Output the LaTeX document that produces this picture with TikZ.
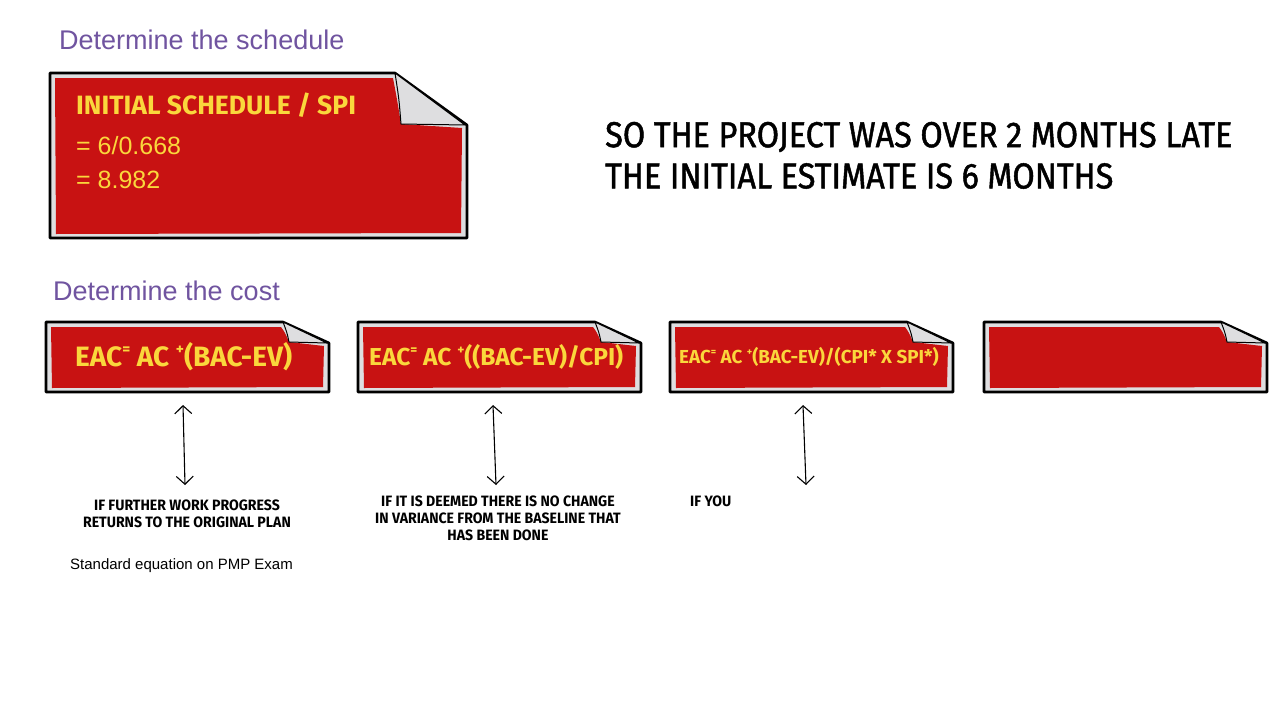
\documentclass[tikz,border=0pt]{standalone}
\usepackage{fontspec}
\setmainfont{Liberation Sans}
\newfontfamily\hand{Fira Sans}[FakeStretch=0.94]
\newfontfamily\handm{Fira Sans}[FakeStretch=0.9, FakeBold=1.3]
\newfontfamily\handn{Fira Sans}
\newfontfamily\cond{Liberation Sans}
\usetikzlibrary{arrows.meta}
\definecolor{notered}{RGB}{200,18,18}
\definecolor{noteyel}{RGB}{250,215,60}
\definecolor{headpur}{RGB}{112,84,160}
\definecolor{flapgrey}{RGB}{222,222,224}
\tikzset{
  outline/.style={fill=flapgrey, draw=black, line width=2.6pt, line join=round},
  flap/.style={fill=flapgrey, draw=black, line width=1pt, line join=round},
  heading/.style={text=headpur, font=\fontsize{27}{30}\selectfont, anchor=west, inner sep=0pt},
  notetxt/.style={text=noteyel, anchor=west, inner sep=0pt},
  bigtxt/.style={text=black, font=\handm\fontsize{36}{40}\selectfont, anchor=west, inner sep=0pt},
  lbl/.style={text=black, font=\hand\bfseries\fontsize{15}{17}\selectfont, align=center, inner sep=0pt},
  plainlbl/.style={text=black, font=\cond\fontsize{15}{17}\selectfont, anchor=west, inner sep=0pt},
  dbl/.style={{Straight Barb[length=8pt,width=17pt]}-{Straight Barb[length=8pt,width=17pt]}, line width=1.1pt}
}
% note: #1 x1, #2 y1, #3 x2, #4 y2, #5 fx, #6 fy
\newcommand\stickynote[6]{%
  \draw[outline] (#1,#2) -- ({#3-#5},#2) -- (#3,{#2+#6}) -- (#3,#4) -- (#1,#4) -- cycle;
  \fill[notered] ({#1+5},{#2+5}) -- ({#3-#5-2},{#2+5}) .. controls ({#3-#5+2},{#2+#6*0.5}) .. ({#3-#5+6},{#2+#6-1})
     -- ({#3-5},{#2+#6+3}) -- ({#3-6},{#4-5}) -- ({#1+6},{#4-4}) -- cycle;
  \draw[flap] ({#3-#5},#2) .. controls ({#3-#5+4},{#2+#6*0.5}) .. ({#3-#5+6},{#2+#6-1}) -- ({#3-2},{#2+#6}) -- cycle;
}
\newcommand\sups[1]{\raisebox{0.45em}{\scalebox{0.55}{#1}}}
\begin{document}
\begin{tikzpicture}[x=1pt,y=-1pt]
\useasboundingbox (0,0) rectangle (1280,720);
\fill[white] (0,0) rectangle (1280,720);

% headings
\node[heading] (h1) at (59,40) {Determine the schedule};
\node[heading] (h2) at (53,291) {Determine the cost};

% big note
\stickynote{50}{73}{467}{238}{72}{52}
\node[notetxt, font=\handn\bfseries\fontsize{26.5}{30}\selectfont] (t1) at (76,105) {INITIAL SCHEDULE / SPI};
\node[notetxt, font=\fontsize{25}{30}\selectfont] (t2) at (76,146) {= 6/0.668};
\node[notetxt, font=\fontsize{25}{30}\selectfont] (t3) at (76,180) {= 8.982};

% right text
\node[bigtxt] (s1) at (605,137) {SO THE PROJECT WAS OVER 2 MONTHS LATE};
\node[bigtxt] (s2) at (605,176) {THE INITIAL ESTIMATE IS 6 MONTHS};

% cost notes
\stickynote{46}{322}{329}{392}{46}{21}
\stickynote{358}{322}{641}{392}{46}{21}
\stickynote{670}{322}{953}{392}{46}{21}
\stickynote{984}{322}{1267}{392}{46}{21}

\node[notetxt, font=\handn\bfseries\fontsize{28}{30}\selectfont] (e1) at (75,357) {EAC\sups{=} AC \sups{+}(BAC-EV)};
\node[notetxt, font=\handn\bfseries\fontsize{24.5}{26}\selectfont] (e2) at (369,357) {EAC\sups{=} AC \sups{+}((BAC-EV)/CPI)};
\node[notetxt, font=\handn\bfseries\fontsize{18.8}{20}\selectfont] (e3) at (679,357) {EAC\sups{=} AC \sups{+}(BAC-EV)/(CPI* X SPI*)};

% arrows
\coordinate (a1t) at (183,405); \coordinate (a1b) at (185,485);
\coordinate (a2t) at (493,405); \coordinate (a2b) at (496,485);
\coordinate (a3t) at (803,405); \coordinate (a3b) at (806,485);
\draw[dbl] (a1t) -- (a1b);
\draw[dbl] (a2t) -- (a2b);
\draw[dbl] (a3t) -- (a3b);

% labels
\node[lbl] (l1) at (187,514) {IF FURTHER WORK PROGRESS\\RETURNS TO THE ORIGINAL PLAN};
\node[plainlbl] (l1b) at (70,566) {Standard equation on PMP Exam};
\node[lbl] (l2) at (498,518) {IF IT IS DEEMED THERE IS NO CHANGE\\IN VARIANCE FROM THE BASELINE THAT\\HAS BEEN DONE};
\node[lbl, anchor=west] (l3) at (690,501) {IF YOU};
\end{tikzpicture}
\end{document}
